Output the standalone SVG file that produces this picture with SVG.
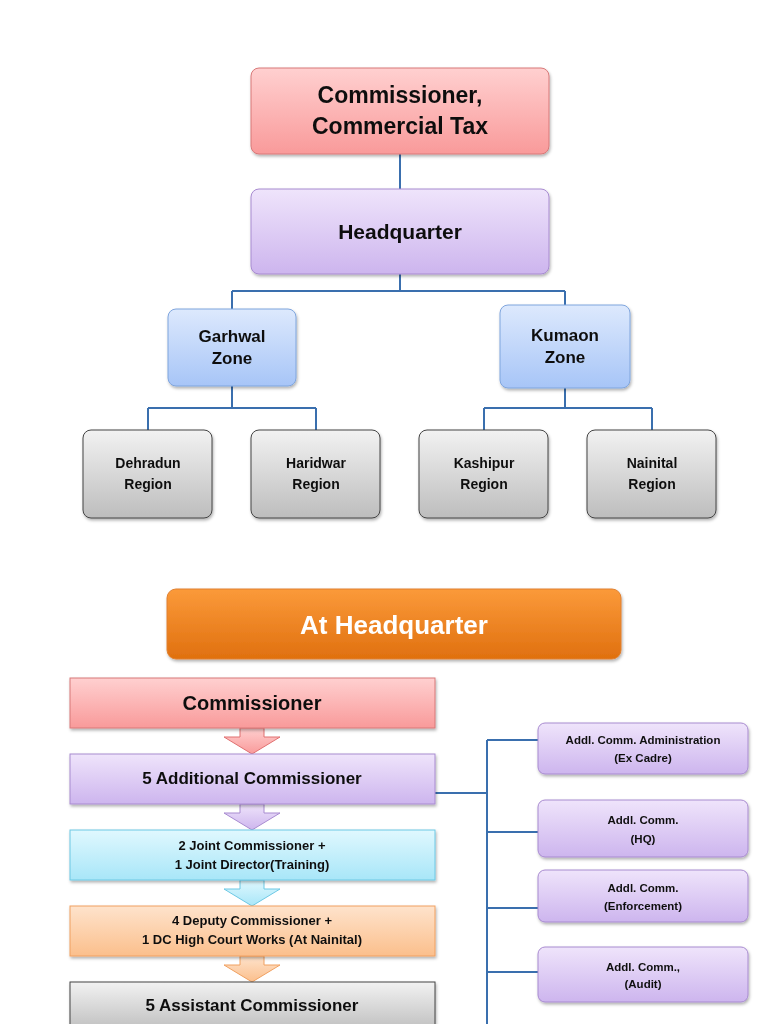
<svg xmlns="http://www.w3.org/2000/svg" width="768" height="1024" viewBox="0 0 768 1024">
<defs>
<linearGradient id="gPink" x1="0" y1="0" x2="0" y2="1"><stop offset="0" stop-color="#ffd0d0"/><stop offset="1" stop-color="#f99a9a"/></linearGradient>
<linearGradient id="gPurp" x1="0" y1="0" x2="0" y2="1"><stop offset="0" stop-color="#efe4fb"/><stop offset="1" stop-color="#cdb5ee"/></linearGradient>
<linearGradient id="gBlue" x1="0" y1="0" x2="0" y2="1"><stop offset="0" stop-color="#dde9fd"/><stop offset="1" stop-color="#a7c5f7"/></linearGradient>
<linearGradient id="gGray" x1="0" y1="0" x2="0" y2="1"><stop offset="0" stop-color="#f2f2f2"/><stop offset="1" stop-color="#bdbdbd"/></linearGradient>
<linearGradient id="gCyan" x1="0" y1="0" x2="0" y2="1"><stop offset="0" stop-color="#e0f8fe"/><stop offset="1" stop-color="#a8e6f8"/></linearGradient>
<linearGradient id="gPeach" x1="0" y1="0" x2="0" y2="1"><stop offset="0" stop-color="#fee3cc"/><stop offset="1" stop-color="#fbbf8c"/></linearGradient>
<linearGradient id="gOrange" x1="0" y1="0" x2="0" y2="1"><stop offset="0" stop-color="#fb9a3a"/><stop offset="1" stop-color="#e0700f"/></linearGradient>
<filter id="sh" x="-10%" y="-10%" width="120%" height="130%"><feDropShadow dx="1" dy="2" stdDeviation="1.5" flood-color="#000" flood-opacity="0.3"/></filter>
</defs>
<style>
text{font-family:"Liberation Sans",Arial,sans-serif;font-weight:bold;fill:#111;text-anchor:middle}
.ln{stroke:#3a6fae;stroke-width:2;fill:none}
.box{filter:url(#sh)}
</style>
<g id="connectors">
<path class="ln" d="M400 154V189M400 274V291M232 291H565M232 291V309M565 291V305M232 386V408M148 408H316M148 408V430M316 408V430M565 388V408M484 408H652M484 408V430M652 408V430"/>
<path class="ln" d="M435 793H487M487 740V1024M487 740H538M487 832H538M487 908H538M487 972H538"/>
<path d="M240 728h24v9h16l-28 17l-28-17h16z" fill="url(#gPink)" stroke="#e07070"/>
<path d="M240 804h24v9h16l-28 17l-28-17h16z" fill="url(#gPurp)" stroke="#a88bd0"/>
<path d="M240 880h24v9h16l-28 17l-28-17h16z" fill="url(#gCyan)" stroke="#6cc8e4"/>
<path d="M240 956h24v9h16l-28 17l-28-17h16z" fill="url(#gPeach)" stroke="#f0a060"/>
</g>
<g id="n_comm" class="box"><rect x="251" y="68" width="298" height="86" rx="8" fill="url(#gPink)" stroke="#d87878"/><text x="400" y="103" font-size="23">Commissioner,</text><text x="400" y="134" font-size="23">Commercial Tax</text></g>
<g id="n_hq" class="box"><rect x="251" y="189" width="298" height="85" rx="8" fill="url(#gPurp)" stroke="#a88bd0"/><text x="400" y="239" font-size="21">Headquarter</text></g>
<g id="n_garhwal" class="box"><rect x="168" y="309" width="128" height="77" rx="8" fill="url(#gBlue)" stroke="#7fa5dd"/><text x="232" y="342" font-size="17">Garhwal</text><text x="232" y="364" font-size="17">Zone</text></g>
<g id="n_kumaon" class="box"><rect x="500" y="305" width="130" height="83" rx="8" fill="url(#gBlue)" stroke="#7fa5dd"/><text x="565" y="341" font-size="17">Kumaon</text><text x="565" y="363" font-size="17">Zone</text></g>
<g id="n_dehradun" class="box"><rect x="83" y="430" width="129" height="88" rx="8" fill="url(#gGray)" stroke="#444"/><text x="148" y="468" font-size="14">Dehradun</text><text x="148" y="489" font-size="14">Region</text></g>
<g id="n_haridwar" class="box"><rect x="251" y="430" width="129" height="88" rx="8" fill="url(#gGray)" stroke="#444"/><text x="316" y="468" font-size="14">Haridwar</text><text x="316" y="489" font-size="14">Region</text></g>
<g id="n_kashipur" class="box"><rect x="419" y="430" width="129" height="88" rx="8" fill="url(#gGray)" stroke="#444"/><text x="484" y="468" font-size="14">Kashipur</text><text x="484" y="489" font-size="14">Region</text></g>
<g id="n_nainital" class="box"><rect x="587" y="430" width="129" height="88" rx="8" fill="url(#gGray)" stroke="#444"/><text x="652" y="468" font-size="14">Nainital</text><text x="652" y="489" font-size="14">Region</text></g>
<g id="n_athq" class="box"><rect x="167" y="589" width="454" height="70" rx="9" fill="url(#gOrange)" stroke="#e08030"/><text x="394" y="634" font-size="26" style="fill:#fff">At Headquarter</text></g>
<g id="n_c" class="box"><rect x="70" y="678" width="365" height="50" fill="url(#gPink)" stroke="#d87878"/><text x="252" y="710" font-size="20">Commissioner</text></g>
<g id="n_add" class="box"><rect x="70" y="754" width="365" height="50" fill="url(#gPurp)" stroke="#a88bd0"/><text x="252" y="784" font-size="17">5 Additional Commissioner</text></g>
<g id="n_joint" class="box"><rect x="70" y="830" width="365" height="50" fill="url(#gCyan)" stroke="#6cc8e4"/><text x="252" y="850" font-size="13">2 Joint Commissioner +</text><text x="252" y="869" font-size="13">1 Joint Director(Training)</text></g>
<g id="n_dep" class="box"><rect x="70" y="906" width="365" height="50" fill="url(#gPeach)" stroke="#f0a060"/><text x="252" y="925" font-size="13">4 Deputy Commissioner +</text><text x="252" y="944" font-size="13">1 DC High Court Works (At Nainital)</text></g>
<g id="n_asst" class="box"><rect x="70" y="982" width="365" height="50" fill="url(#gGray)" stroke="#444"/><text x="252" y="1011" font-size="17">5 Assistant Commissioner</text></g>
<g id="n_r1" class="box"><rect x="538" y="723" width="210" height="51" rx="7" fill="url(#gPurp)" stroke="#a88bd0"/><text x="643" y="744" font-size="11.5">Addl. Comm.  Administration</text><text x="643" y="762" font-size="11.5">(Ex Cadre)</text></g>
<g id="n_r2" class="box"><rect x="538" y="800" width="210" height="57" rx="7" fill="url(#gPurp)" stroke="#a88bd0"/><text x="643" y="824" font-size="11.5">Addl. Comm.</text><text x="643" y="843" font-size="11.5">(HQ)</text></g>
<g id="n_r3" class="box"><rect x="538" y="870" width="210" height="52" rx="7" fill="url(#gPurp)" stroke="#a88bd0"/><text x="643" y="892" font-size="11.5">Addl. Comm.</text><text x="643" y="910" font-size="11.5">(Enforcement)</text></g>
<g id="n_r4" class="box"><rect x="538" y="947" width="210" height="55" rx="7" fill="url(#gPurp)" stroke="#a88bd0"/><text x="643" y="971" font-size="11.5">Addl. Comm.,</text><text x="643" y="988" font-size="11.5">(Audit)</text></g>
</svg>
